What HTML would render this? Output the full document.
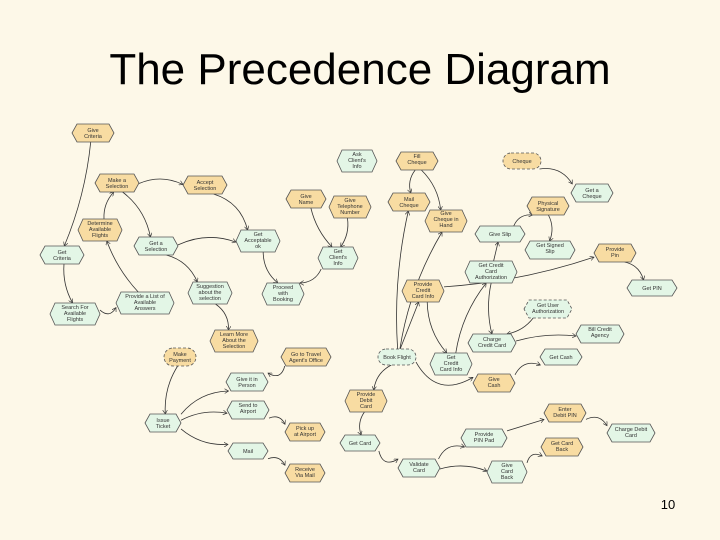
<!DOCTYPE html>
<html><head><meta charset="utf-8"><style>
html,body{margin:0;padding:0;background:#fdf8e8;}
svg{display:block;font-family:"Liberation Sans",sans-serif;}
.t{font-size:5.5px;fill:#333;text-anchor:middle;}
</style></head><body>
<svg id="s" width="720" height="540" viewBox="0 0 720 540">
<defs><marker id="a" markerWidth="6" markerHeight="6" refX="5" refY="3" orient="auto"><path d="M0,0 L5,3 L0,6" fill="none" stroke="#333" stroke-width="0.8"/></marker></defs>
<text x="360" y="84" font-size="44" text-anchor="middle" fill="#000">The Precedence Diagram</text>
<text x="668" y="509" font-size="13" text-anchor="middle" fill="#000">10</text>
<g id="edges" fill="none" stroke="#333" stroke-width="0.8"></g>
<g id="nodes"></g>
<g id="labels">
<text class="t" x="93" y="132">Give</text><text class="t" x="93" y="138">Criteria</text>
<text class="t" x="117" y="182">Make a</text><text class="t" x="117" y="188">Selection</text>
<text class="t" x="205" y="184">Accept</text><text class="t" x="205" y="190">Selection</text>
<text class="t" x="306" y="198">Give</text><text class="t" x="306" y="204">Name</text>
<text class="t" x="350" y="202">Give</text><text class="t" x="350" y="208">Telephone</text><text class="t" x="350" y="214">Number</text>
<text class="t" x="357" y="156">Ask</text><text class="t" x="357" y="162">Client's</text><text class="t" x="357" y="168">Info</text>
<text class="t" x="417" y="158">Fill</text><text class="t" x="417" y="164">Cheque</text>
<text class="t" x="522" y="163">Cheque</text>
<text class="t" x="592" y="192">Get a</text><text class="t" x="592" y="198">Cheque</text>
<text class="t" x="548" y="205">Physical</text><text class="t" x="548" y="211">Signature</text>
<text class="t" x="409" y="201">Mail</text><text class="t" x="409" y="207">Cheque</text>
<text class="t" x="446" y="215">Give</text><text class="t" x="446" y="221">Cheque in</text><text class="t" x="446" y="227">Hand</text>
<text class="t" x="500" y="236">Give Slip</text>
<text class="t" x="550" y="247">Get Signed</text><text class="t" x="550" y="253">Slip</text>
<text class="t" x="615" y="251">Provide</text><text class="t" x="615" y="257">Pin</text>
<text class="t" x="652" y="290">Get PIN</text>
<text class="t" x="491" y="267">Get Credit</text><text class="t" x="491" y="273">Card</text><text class="t" x="491" y="279">Authorization</text>
<text class="t" x="423" y="286">Provide</text><text class="t" x="423" y="292">Credit</text><text class="t" x="423" y="298">Card Info</text>
<text class="t" x="548" y="307">Get User</text><text class="t" x="548" y="313">Authorization</text>
<text class="t" x="600" y="331">Bill Credit</text><text class="t" x="600" y="337">Agency</text>
<text class="t" x="492" y="341">Charge</text><text class="t" x="492" y="347">Credit Card</text>
<text class="t" x="561" y="359">Get Cash</text>
<text class="t" x="397" y="359">Book Flight</text>
<text class="t" x="451" y="359">Get</text><text class="t" x="451" y="365">Credit</text><text class="t" x="451" y="371">Card Info</text>
<text class="t" x="494" y="381">Give</text><text class="t" x="494" y="387">Cash</text>
<text class="t" x="565" y="411">Enter</text><text class="t" x="565" y="417">Debit PIN</text>
<text class="t" x="631" y="431">Charge Debit</text><text class="t" x="631" y="437">Card</text>
<text class="t" x="562" y="445">Get Card</text><text class="t" x="562" y="451">Back</text>
<text class="t" x="484" y="436">Provide</text><text class="t" x="484" y="442">PIN Pad</text>
<text class="t" x="507" y="467">Give</text><text class="t" x="507" y="473">Card</text><text class="t" x="507" y="479">Back</text>
<text class="t" x="419" y="466">Validate</text><text class="t" x="419" y="472">Card</text>
<text class="t" x="360" y="445">Get Card</text>
<text class="t" x="366" y="396">Provide</text><text class="t" x="366" y="402">Debit</text><text class="t" x="366" y="408">Card</text>
<text class="t" x="62" y="254">Get</text><text class="t" x="62" y="260">Criteria</text>
<text class="t" x="100" y="225">Determine</text><text class="t" x="100" y="231">Available</text><text class="t" x="100" y="237">Flights</text>
<text class="t" x="156" y="245">Get a</text><text class="t" x="156" y="251">Selection</text>
<text class="t" x="258" y="236">Get</text><text class="t" x="258" y="242">Acceptable</text><text class="t" x="258" y="248">ok</text>
<text class="t" x="338" y="253">Get</text><text class="t" x="338" y="259">Client's</text><text class="t" x="338" y="265">Info</text>
<text class="t" x="75" y="309">Search For</text><text class="t" x="75" y="315">Available</text><text class="t" x="75" y="321">Flights</text>
<text class="t" x="145" y="298">Provide a List of</text><text class="t" x="145" y="304">Available</text><text class="t" x="145" y="310">Answers</text>
<text class="t" x="210" y="288">Suggestion</text><text class="t" x="210" y="294">about the</text><text class="t" x="210" y="300">selection</text>
<text class="t" x="283" y="289">Proceed</text><text class="t" x="283" y="295">with</text><text class="t" x="283" y="301">Booking</text>
<text class="t" x="234" y="336">Learn More</text><text class="t" x="234" y="342">About the</text><text class="t" x="234" y="348">Selection</text>
<text class="t" x="180" y="356">Make</text><text class="t" x="180" y="362">Payment</text>
<text class="t" x="306" y="356">Go to Travel</text><text class="t" x="306" y="362">Agent's Office</text>
<text class="t" x="247" y="381">Give it in</text><text class="t" x="247" y="387">Person</text>
<text class="t" x="248" y="407">Send to</text><text class="t" x="248" y="413">Airport</text>
<text class="t" x="163" y="422">Issue</text><text class="t" x="163" y="428">Ticket</text>
<text class="t" x="305" y="430">Pick up</text><text class="t" x="305" y="436">at Airport</text>
<text class="t" x="248" y="453">Mail</text>
<text class="t" x="305" y="471">Receive</text><text class="t" x="305" y="477">Via Mail</text>
</g>
</svg>
<script>
var O="#f8dca2",G="#e3f6e6";
var N={
gc:[93,133,42,18,O],ms:[117,183,44,18,O],as:[205,185,44,18,O],gn:[306,199,40,18,O],gt:[350,207,42,22,O],
ak:[357,161,40,22,G],fc:[417,161,42,18,O],ch:[522,161,38,16,O,"d"],gq:[592,193,42,18,G],ps:[548,206,42,18,O],
mc:[409,202,42,18,O],gh:[446,221,42,22,O],gs:[500,234,50,16,G],ss:[550,250,50,18,G],pp:[615,253,42,18,O],
gp:[652,288,50,16,G],ca:[491,272,52,22,G],pc:[423,291,42,22,O],ua:[548,309,48,18,G,"x"],bc:[600,334,48,18,G],
cc:[492,343,48,18,G],gk:[561,357,42,16,G],bf:[397,357,38,16,G,"d"],gi:[451,364,42,22,G],gv:[494,383,42,18,O],
ed:[565,413,42,18,O],cd:[631,433,48,18,G],gb:[562,447,42,18,O],pd:[484,438,46,18,G],gg:[507,472,40,22,G],
vc:[419,468,42,18,G],gd:[360,443,40,16,G],pv:[366,401,42,22,O],gr:[62,255,44,18,G],da:[100,230,44,22,O],
gl:[156,246,44,18,G],ga:[258,241,44,22,G],gx:[338,258,40,22,G],sf:[75,314,50,22,G],pl:[145,303,58,22,G],
su:[210,293,44,22,G],pr:[283,294,42,22,G],lm:[234,341,48,22,O],mp:[180,357,32,18,O,"d"],gt2:[306,357,50,18,O],
gip:[247,382,42,18,G],sa:[248,410,42,18,G],it:[163,423,36,18,G],pu:[305,432,40,18,O],ml:[248,451,40,16,G],rv:[305,473,40,18,O]};
var E=[["gc","gr",-8],["gr","sf",6],["sf","pl",10],["pl","da",-6],["da","ms",-6],["ms","as",-10],["ms","gl",-10],["as","ga",-14],["gl","ga",-12],["gl","su",-10],["su","lm",-8],["ga","pr",8],["gn","gx",6],["gt","gx",-6],["gx","pr",-8],["fc","mc",6],["fc","gh",-8],["bf","mc",-10],["bf","gh",-12],["bf","pc",0],["pc","gi",10],["gi","ca",-10],["ca","gs",0],["gs","ps",-8],["ps","ss",-6],["pc","pp",10],["pp","gp",-8],["ca","cc",6],["ua","cc",-6],["cc","bc",-6],["ch","gq",-12],["bf","pv",8],["bf","gv",30],["gv","gk",-12],["pv","gd",6],["gd","vc",14],["vc","pd",-12],["pd","ed",0],["ed","cd",-10],["vc","gg",-8],["gg","gb",-10],["mp","it",8],["gt2","gip",-12],["it","gip",-12],["it","sa",-8],["it","ml",10],["sa","pu",-8],["ml","rv",-8]];
var ns="http://www.w3.org/2000/svg",eg=document.getElementById("edges"),ng=document.getElementById("nodes");
function el(t,a,p){var e=document.createElementNS(ns,t);for(var k in a)e.setAttribute(k,a[k]);p.appendChild(e);return e;}
function edgePt(n,tx,ty){var dx=tx-n[0],dy=ty-n[1];var s=Math.min(Math.abs((n[2]/2)/(dx||1e-6)),Math.abs((n[3]/2)/(dy||1e-6)));return [n[0]+dx*s,n[1]+dy*s];}
E.forEach(function(e){var a=N[e[0]],b=N[e[1]];var p=edgePt(a,b[0],b[1]),q=edgePt(b,a[0],a[1]);var mx=(p[0]+q[0])/2,my=(p[1]+q[1])/2,dx=q[0]-p[0],dy=q[1]-p[1],L=Math.hypot(dx,dy)||1;var cx=mx-dy/L*e[2],cy=my+dx/L*e[2];
el("path",{d:"M"+p[0]+","+p[1]+" Q"+cx+","+cy+" "+q[0]+","+q[1],"marker-end":"url(#a)"},eg);});
for(var k in N){var n=N[k],x=n[0],y=n[1],w=n[2]/2,h=n[3]/2,c=n[4];
if(n[5]=="d"){el("rect",{x:x-w,y:y-h,width:2*w,height:2*h,rx:h,fill:c,stroke:"#555","stroke-width":0.8,"stroke-dasharray":"3,2"},ng);}
else{var i=5;el("polygon",{points:(x-w)+","+y+" "+(x-w+i)+","+(y-h)+" "+(x+w-i)+","+(y-h)+" "+(x+w)+","+y+" "+(x+w-i)+","+(y+h)+" "+(x-w+i)+","+(y+h),fill:c,stroke:"#555","stroke-width":0.8,"stroke-dasharray":n[5]=="x"?"3,2":"none"},ng);}}
</script>
</body></html>
